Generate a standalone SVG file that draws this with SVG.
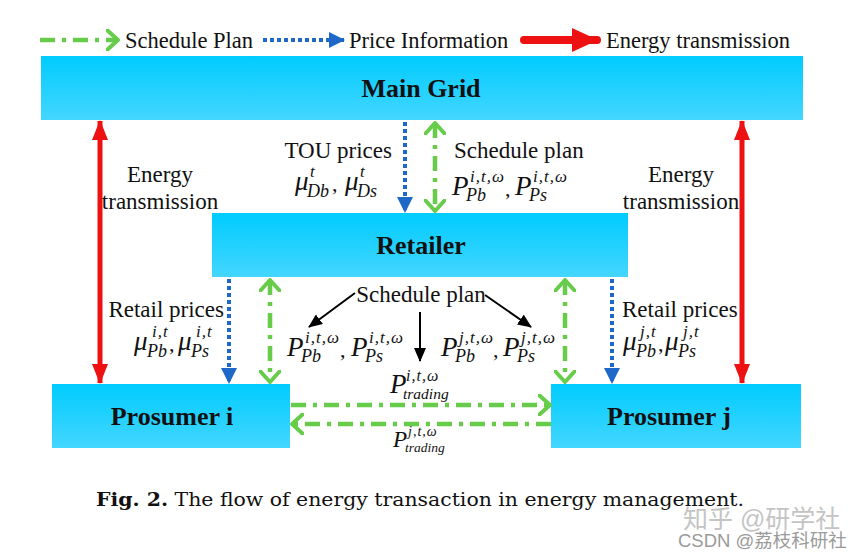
<svg xmlns="http://www.w3.org/2000/svg" width="865" height="557" viewBox="0 0 865 557">
<defs>
<linearGradient id="boxg" x1="0" y1="0" x2="0" y2="1">
<stop offset="0" stop-color="#00CCFF"/>
<stop offset="1" stop-color="#44D6FF"/>
</linearGradient>
<marker id="redH" viewBox="0 0 20 16" refX="19" refY="8" markerWidth="20" markerHeight="16" markerUnits="userSpaceOnUse" orient="auto-start-reverse">
<path d="M0,0 L20,8 L0,16 z" fill="#EE1111"/>
</marker>
<marker id="redL" viewBox="0 0 26 24" refX="25" refY="12" markerWidth="26" markerHeight="24" markerUnits="userSpaceOnUse" orient="auto">
<path d="M0,0 L26,12 L0,24 z" fill="#EE1111"/>
</marker>
<marker id="grnH" viewBox="0 0 14 22" refX="12" refY="11" markerWidth="14" markerHeight="22" markerUnits="userSpaceOnUse" orient="auto-start-reverse">
<path d="M1.5,1.5 L12,11 L1.5,20.5" fill="none" stroke="#66CC4A" stroke-width="4" stroke-linecap="round" stroke-linejoin="round"/>
</marker>
<marker id="bluH" viewBox="0 0 16 16" refX="15" refY="8" markerWidth="16" markerHeight="16" markerUnits="userSpaceOnUse" orient="auto">
<path d="M0,0 L16,8 L0,16 z" fill="#1E68C8"/>
</marker>
<marker id="blkH" viewBox="0 0 14 12" refX="13" refY="6" markerWidth="14" markerHeight="12" markerUnits="userSpaceOnUse" orient="auto">
<path d="M0,0 L14,6 L0,12 z" fill="#000"/>
</marker>
</defs>
<style>
.box{fill:url(#boxg);}
.title{font-family:"Liberation Serif",serif;font-weight:bold;font-size:26px;fill:#111;text-anchor:middle;}
.lbl{font-family:"Liberation Serif",serif;font-size:23px;fill:#111;}
.leg{font-family:"Liberation Serif",serif;font-size:22.5px;fill:#111;}
.m{font-family:"Liberation Serif",serif;font-style:italic;font-size:27px;fill:#111;}
.sp{font-size:17px;letter-spacing:1px;}
.sb{font-size:18px;}
.cm{font-style:normal;font-size:22px;}
.red{stroke:#EE1111;stroke-width:5;fill:none;}
.grn{stroke:#66CC4A;stroke-width:4.5;fill:none;stroke-dasharray:15 7 4 7;}
.blu{stroke:#1E68C8;stroke-width:4;fill:none;stroke-dasharray:4 3;}
.blk{stroke:#000;stroke-width:2;fill:none;}
.cap{font-family:"DejaVu Serif","Liberation Serif",serif;font-size:18px;fill:#111;}
.wm{font-family:"Liberation Sans","Noto Sans CJK SC",sans-serif;}
</style>
<rect width="865" height="557" fill="#fff"/>

<g id="legend">
<line class="grn" x1="40" y1="40" x2="118" y2="40" marker-end="url(#grnH)"/>
<text class="leg" x="125" y="48">Schedule Plan</text>
<line class="blu" x1="263" y1="40" x2="344" y2="40" marker-end="url(#bluH)"/>
<text class="leg" x="349" y="48">Price Information</text>
<line x1="524" y1="40" x2="597" y2="40" stroke="#EE1111" stroke-width="8" stroke-linecap="round" marker-end="url(#redL)"/>
<text class="leg" x="606" y="48">Energy transmission</text>
</g>

<g id="main-grid">
<rect class="box" x="41" y="56" width="762" height="64"/>
<text class="title" x="421" y="97">Main Grid</text>
</g>
<g id="retailer">
<rect class="box" x="212" y="213" width="416" height="64"/>
<text class="title" x="421" y="254">Retailer</text>
</g>
<g id="prosumer-i">
<rect class="box" x="52" y="384" width="238" height="64"/>
<text class="title" x="172" y="425">Prosumer i</text>
</g>
<g id="prosumer-j">
<rect class="box" x="551" y="384" width="250" height="64"/>
<text class="title" x="669" y="425">Prosumer j</text>
</g>

<g id="connectors">
<line class="red" x1="100" y1="121" x2="100" y2="383" marker-start="url(#redH)" marker-end="url(#redH)"/>
<line class="red" x1="742" y1="121" x2="742" y2="383" marker-start="url(#redH)" marker-end="url(#redH)"/>
<line class="blu" x1="405" y1="122" x2="405" y2="212" marker-end="url(#bluH)"/>
<line class="grn" x1="435" y1="123" x2="435" y2="211" marker-start="url(#grnH)" marker-end="url(#grnH)"/>
<line class="blu" x1="229" y1="279" x2="229" y2="383" marker-end="url(#bluH)"/>
<line class="grn" x1="270" y1="280" x2="270" y2="382" marker-start="url(#grnH)" marker-end="url(#grnH)"/>
<line class="grn" x1="565" y1="280" x2="565" y2="382" marker-start="url(#grnH)" marker-end="url(#grnH)"/>
<line class="blu" x1="612" y1="279" x2="612" y2="383" marker-end="url(#bluH)"/>
<line class="grn" x1="291" y1="405" x2="550" y2="405" marker-end="url(#grnH)"/>
<line class="grn" x1="551" y1="424" x2="292" y2="424" marker-end="url(#grnH)"/>
<line class="blk" x1="355" y1="293" x2="309" y2="327" marker-end="url(#blkH)"/>
<line class="blk" x1="420" y1="312" x2="420" y2="361" marker-end="url(#blkH)"/>
<line class="blk" x1="485" y1="295" x2="531" y2="327" marker-end="url(#blkH)"/>
</g>

<g id="labels">
<text class="lbl" x="160" y="182" text-anchor="middle">Energy</text>
<text class="lbl" x="160" y="209" text-anchor="middle">transmission</text>
<text class="lbl" x="681" y="182" text-anchor="middle">Energy</text>
<text class="lbl" x="681" y="209" text-anchor="middle">transmission</text>

<text class="lbl" x="392" y="158" text-anchor="end">TOU prices</text>
<text class="m" x="295" y="190">μ<tspan class="sp" x="310" y="177">t</tspan><tspan class="sb" x="307" y="197">Db</tspan><tspan class="cm" x="332" y="191">,</tspan><tspan x="345" y="190">μ</tspan><tspan class="sp" x="360" y="177">t</tspan><tspan class="sb" x="357" y="197">Ds</tspan></text>

<text class="lbl" x="454" y="158">Schedule plan</text>
<text class="m" x="452" y="195">P<tspan class="sp" x="470" y="182">i,t,ω</tspan><tspan class="sb" x="466" y="201">Pb</tspan><tspan class="cm" x="505" y="196">,</tspan><tspan x="515" y="195">P</tspan><tspan class="sp" x="533" y="182">i,t,ω</tspan><tspan class="sb" x="529" y="201">Ps</tspan></text>

<text class="lbl" x="224" y="317" text-anchor="end">Retail prices</text>
<text class="m" x="134" y="350">μ<tspan class="sp" x="152" y="337">i,t</tspan><tspan class="sb" x="147" y="357">Pb</tspan><tspan class="cm" x="169" y="351">,</tspan><tspan x="178" y="350">μ</tspan><tspan class="sp" x="196" y="337">i,t</tspan><tspan class="sb" x="191" y="357">Ps</tspan></text>

<text class="lbl" x="622" y="317">Retail prices</text>
<text class="m" x="623" y="350">μ<tspan class="sp" x="640" y="337">j,t</tspan><tspan class="sb" x="636" y="357">Pb</tspan><tspan class="cm" x="658" y="351">,</tspan><tspan x="665" y="350">μ</tspan><tspan class="sp" x="683" y="337">j,t</tspan><tspan class="sb" x="678" y="357">Ps</tspan></text>

<text class="lbl" x="421" y="302" text-anchor="middle">Schedule plan</text>

<text class="m" x="287" y="356">P<tspan class="sp" x="305" y="343">i,t,ω</tspan><tspan class="sb" x="301" y="362">Pb</tspan><tspan class="cm" x="340" y="357">,</tspan><tspan x="351" y="356">P</tspan><tspan class="sp" x="369" y="343">i,t,ω</tspan><tspan class="sb" x="365" y="362">Ps</tspan></text>

<text class="m" x="441" y="356">P<tspan class="sp" x="459" y="343">j,t,ω</tspan><tspan class="sb" x="455" y="362">Pb</tspan><tspan class="cm" x="493" y="357">,</tspan><tspan x="503" y="356">P</tspan><tspan class="sp" x="521" y="343">j,t,ω</tspan><tspan class="sb" x="517" y="362">Ps</tspan></text>

<text class="m" x="390" y="393">P<tspan x="406" y="381" style="font-size:16px;letter-spacing:1px">i,t,ω</tspan><tspan x="403" y="399" style="font-size:15.5px">trading</tspan></text>
<text class="m" x="393" y="447" style="font-size:23px">P<tspan x="408" y="436" style="font-size:14px;letter-spacing:1px">j,t,ω</tspan><tspan x="405" y="452" style="font-size:13.5px">trading</tspan></text>
</g>

<g id="caption">
<text class="cap" x="96" y="506" textLength="648" lengthAdjust="spacingAndGlyphs"><tspan font-weight="bold">Fig. 2.</tspan> The flow of energy transaction in energy management.</text>
</g>
<g id="watermark">
<text class="wm" x="683" y="528" font-size="25" fill="#C4C4C4">知乎 @研学社</text>
<text class="wm" x="678" y="547" font-size="18.5" fill="#9A9A9A">CSDN @荔枝科研社</text>
</g>
</svg>
